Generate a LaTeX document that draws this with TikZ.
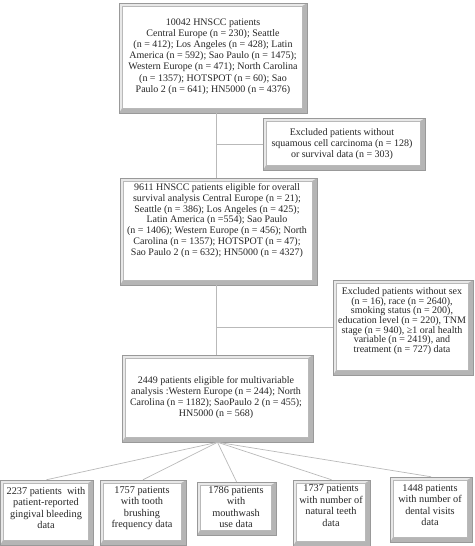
\documentclass[tikz,border=0pt]{standalone}
\usepackage{fontspec}
\setmainfont{Liberation Serif}
\newcommand\bevfill{%
 \fill[gray!18] (path picture bounding box.north west) -- (path picture bounding box.north east) -- ([shift={(-5pt,-3pt)}]path picture bounding box.north east) -- ([shift={(3pt,-3pt)}]path picture bounding box.north west) -- ([shift={(3pt,5pt)}]path picture bounding box.south west) -- (path picture bounding box.south west) -- cycle;
 \fill[white,draw=gray!55,line width=0.4pt] ([shift={(3pt,-3pt)}]path picture bounding box.north west) rectangle ([shift={(-5pt,5pt)}]path picture bounding box.south east);
}
\begin{document}
\begin{tikzpicture}[x=1pt,y=-1pt,
  bev/.style={rectangle, draw=gray!80, line width=0.5pt, fill=gray!58, inner sep=0pt, path picture={\bevfill}},
  txt/.style={align=center, inner sep=0pt, text=black!85, font=\fontsize{10}{11.2}\selectfont},
  stxt/.style={txt, font=\fontsize{10.3}{11.5}\selectfont},
  link/.style={draw=gray!55, line width=0.7pt}]
\useasboundingbox (0,0) rectangle (474,546);
\coordinate (trunk) at (216,0);
% frames
\node[bev, minimum width=188pt, minimum height=110pt] (top) at (213,58) {};
\node[bev, minimum width=162pt, minimum height=52pt] (ex1) at (344,144) {};
\node[bev, minimum width=197pt, minimum height=107pt] (b2) at (218.5,231.5) {};
\node[bev, minimum width=140pt, minimum height=95pt] (ex2) at (403,327.5) {};
\node[bev, minimum width=191pt, minimum height=87pt] (m3) at (217.5,398.5) {};
\node[bev, minimum width=93pt, minimum height=65pt] (c1) at (46.5,512.5) {};
\node[bev, minimum width=86pt, minimum height=65pt] (c2) at (143,512.5) {};
\node[bev, minimum width=79pt, minimum height=53pt] (c3) at (236.5,508.5) {};
\node[bev, minimum width=77pt, minimum height=66pt] (c4) at (331.5,513) {};
\node[bev, minimum width=82pt, minimum height=65pt] (c5) at (431,509.5) {};
% texts
\node[txt] (ttop) at (213,56.5) {10042 HNSCC patients\\Central Europe (n = 230); Seattle\\(n = 412); Los Angeles (n = 428); Latin\\America (n = 592); Sao Paulo (n = 1475);\\Western Europe (n = 471); North Carolina\\(n = 1357); HOTSPOT (n = 60); Sao\\Paulo 2 (n = 641); HN5000 (n = 4376)};
\node[txt, font=\fontsize{10}{11}\selectfont] (tex1) at (342,144) {Excluded patients without\\squamous cell carcinoma (n = 128)\\or survival data (n = 303)};
\node[txt, font=\fontsize{10}{10.8}\selectfont] (tb2) at (217,220.5) {9611 HNSCC patients eligible for overall\\survival analysis Central Europe (n = 21);\\Seattle (n = 386); Los Angeles (n = 425);\\Latin America (n =554); Sao Paulo\\(n = 1406); Western Europe (n = 456); North\\Carolina (n = 1357); HOTSPOT (n = 47);\\Sao Paulo 2 (n = 632); HN5000 (n = 4327)};
\node[txt, font=\fontsize{10}{9.6}\selectfont] (tex2) at (402,321) {Excluded patients without sex\\(n = 16), race (n = 2640),\\smoking status (n = 200),\\education level (n = 220), TNM\\stage (n = 940), ≥1 oral health\\variable (n = 2419), and\\treatment (n = 727) data};
\node[txt, font=\fontsize{10}{11}\selectfont] (tm3) at (216,397.5) {2449 patients eligible for multivariable\\analysis :Western Europe (n = 244); North\\Carolina (n = 1182); SaoPaulo 2 (n = 455);\\HN5000 (n = 568)};
\node[stxt] (tc1) at (46,508) {2237 patients\ \ with\\patient-reported\\gingival bleeding\\data};
\node[stxt] (tc2) at (142,508) {1757 patients\\with tooth\\brushing\\frequency data};
\node[stxt] (tc3) at (236,507) {1786 patients\\with\\mouthwash\\use data};
\node[stxt] (tc4) at (331,505.5) {1737 patients\\with number of\\natural teeth\\data};
\node[stxt] (tc5) at (430,505) {1448 patients\\with number of\\dental visits\\data};
% connectors
\draw[link] (top.south -| trunk) -- (b2.north -| trunk);
\draw[link] (b2.south -| trunk) -- (m3.north -| trunk);
\draw[link] (ex1.west -| trunk) -- (ex1.west);
\draw[link] (ex2.west -| trunk) -- (ex2.west);
\draw[link] (m3.south) -- (c1.north);
\draw[link] (m3.south) -- (c2.north);
\draw[link] (m3.south) -- (c3.north);
\draw[link] (m3.south) -- (c4.north);
\draw[link] (m3.south) -- (c5.north);
\end{tikzpicture}
\end{document}
